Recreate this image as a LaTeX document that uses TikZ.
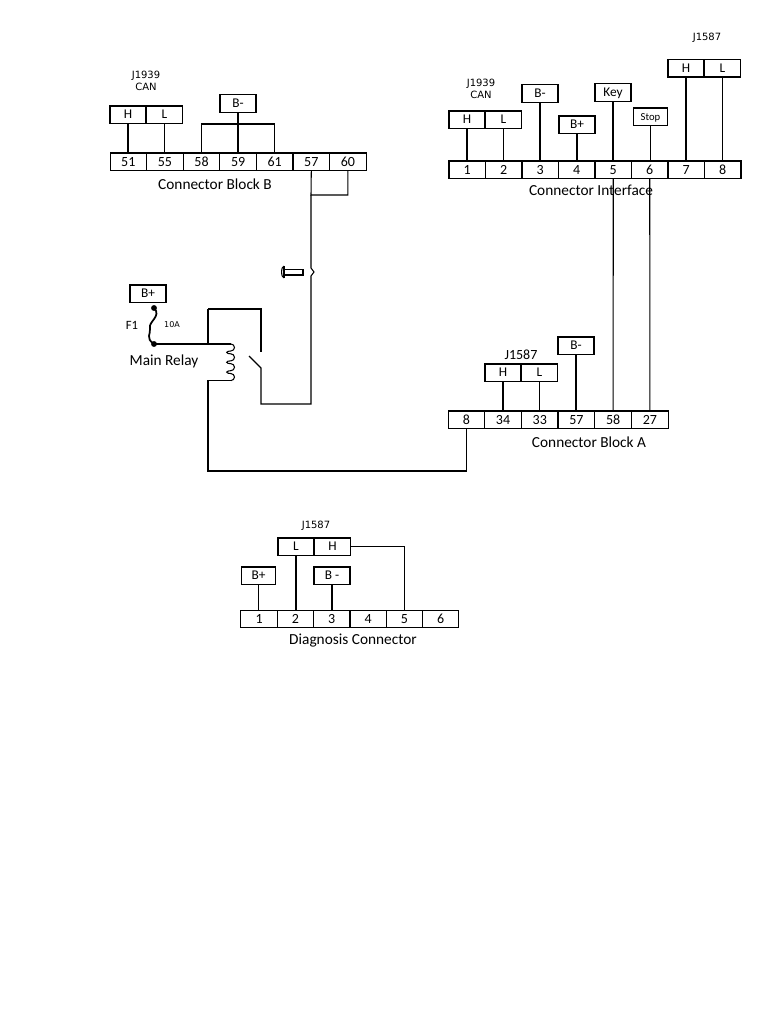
\documentclass[tikz,border=0pt]{standalone}
\usepackage{fontspec}
\setmainfont{Carlito}
\newfontfamily\smallf{DejaVu Sans}
\begin{document}
\begin{tikzpicture}[x=0.75pt,y=-0.75pt,line width=0.8pt,
  cell/.style={draw,minimum width=27.4pt,minimum height=12.8pt,inner sep=0pt,text height=7.2pt,text depth=0pt,font=\fontsize{10.5}{11}\selectfont},
  lbl/.style={draw,minimum height=12.8pt,inner sep=0pt,text height=7pt,text depth=0.5pt,font=\fontsize{10}{11}\selectfont},
  captxt/.style={font=\fontsize{11.5}{13}\selectfont},
  tiny/.style={font=\smallf\fontsize{7.5}{9}\selectfont,align=center}]
\useasboundingbox (0,0) rectangle (768,1024);
% Connector Block B
\foreach \t [count=\i] in {51,55,58,59,61,57,60}
  \node[cell] (b\i) at ({110+36.6*(\i-0.5)},161.5) {\t};
\node[captxt] (bcap) at (215,184) {Connector Block B};
\node[tiny] (bj) at (146,81) {J1939\\CAN};
\node[lbl,minimum width=27pt] (bh) at (128,114.5) {H};
\node[lbl,minimum width=27pt] (bl) at (164.5,114.5) {L};
\node[lbl,minimum width=27pt] (bbm) at (238,103.5) {B-};
\draw (bh) -- (bh|-b1.north);
\draw (bl) -- (bl|-b2.north);
\coordinate (bbus) at (238,124);
\draw (bbm) -- (bbm|-b4.north);
\draw (b3.north) |- (bbus) -| (b5.north);
\coordinate (loop) at (311,195);
\draw (b6.south) -- (loop) -| (b7.south);
% relay wire
\coordinate (kink) at (311,268);
\coordinate (rb) at (311,404);
\coordinate (sw1) at (261,404);
\draw (loop) -- (kink) -- (314,272) -- (311,276) -- (rb) -- (sw1) -- (261,368) -- (249,356);
\draw (208,309) -- (261,309) -- (261,352);
% screw
\draw (284,266) arc (90:270:1.8pt and 4.5pt);
\draw (284,266) -- (284,278);
\draw (284,269.5) rectangle (303,275);
% fuse and relay
\node[lbl,minimum width=27pt] (bp) at (148,293.5) {B+};
\coordinate (f1) at (154,308);
\coordinate (f2) at (154,344);
\draw[line width=1.3pt] (f1) .. controls (162,316) and (148,322) .. (150,328) .. controls (151,334) and (145,338) .. (f2);
\fill (f1) circle (2.2pt);
\fill (f2) circle (2.2pt);
\node[captxt,font=\fontsize{9.5}{10}\selectfont] (ff) at (132,325) {F1};
\node[tiny,font=\smallf\fontsize{6}{7}\selectfont] (fa) at (172,325) {10A};
\node[captxt] (mr) at (164,361) {Main Relay};
\coordinate (bot) at (208,471);
\draw (f2) -- (231,344);
\draw (208,309) -- (208,344);
\draw (231,344) arc (90:-90:2.6pt) arc (90:270:3.2pt and 1.1pt) arc (90:-90:2.6pt) arc (90:270:3.2pt and 1.1pt) arc (90:-90:2.6pt) arc (90:270:3.2pt and 1.1pt) arc (90:-90:2.6pt) coordinate (cend);
% Connector Interface
\foreach \t [count=\i] in {1,...,8}
  \node[cell] (c\i) at ({449+36.5*(\i-0.5)},169.5) {\t};
\node[captxt] (ccap) at (591,190) {Connector Interface};
\node[tiny] (cj) at (481,89) {J1939\\CAN};
\node[lbl,minimum width=27pt] (ch) at (467,119.5) {H};
\node[lbl,minimum width=27pt] (cl) at (503.5,119.5) {L};
\node[lbl,minimum width=27pt] (cbm) at (540,93.5) {B-};
\node[lbl,minimum width=27pt] (cbp) at (577,124.5) {B+};
\node[lbl,minimum width=27pt] (ckey) at (613,92.5) {Key};
\node[lbl,minimum width=26pt,font=\fontsize{8}{9}\selectfont] (cstop) at (650.5,116.5) {Stop};
\node[lbl,minimum width=27pt] (ch2) at (686,68.5) {H};
\node[lbl,minimum width=27pt] (cl2) at (722.5,68.5) {L};
\node[tiny] (cj2) at (707,38) {J1587};
\foreach \n/\c in {ch/c1,cl/c2,cbm/c3,cbp/c4,ckey/c5,cstop/c6,ch2/c7,cl2/c8}
  \draw (\n) -- (\n|-\c.north);
% Connector Block A
\foreach \t [count=\i] in {8,34,33,57,58,27}
  \node[cell] (a\i) at ({448+36.7*(\i-0.5)},419.5) {\t};
\node[captxt] (acap) at (589,442) {Connector Block A};
\node[captxt,font=\fontsize{10.5}{11}\selectfont] (aj) at (521,355) {J1587};
\node[lbl,minimum width=27pt] (ah) at (503,372.5) {H};
\node[lbl,minimum width=27pt] (al) at (539.5,372.5) {L};
\node[lbl,minimum width=27pt] (abm) at (576,345.5) {B-};
\draw (ah) -- (ah|-a2.north);
\draw (al) -- (al|-a3.north);
\draw (abm) -- (abm|-a4.north);
\draw (c5.south) -- (a5.north);
\draw (c6.south) -- (a6.north);
\draw (cend) -- (cend -| bot) -- (bot) -| (a1.south);
% Diagnosis
\foreach \t [count=\i] in {1,...,6}
  \node[cell] (d\i) at ({241+36.3*(\i-0.5)},619) {\t};
\node[captxt] (dcap) at (353,641) {Diagnosis Connector};
\node[tiny] (dj) at (316,526) {J1587};
\node[lbl,minimum width=27pt] (dl) at (296,546.5) {L};
\node[lbl,minimum width=27pt] (dh) at (332.5,546.5) {H};
\node[lbl,minimum width=26pt] (dbp) at (258.5,575.5) {B+};
\node[lbl,minimum width=27pt] (dbm) at (332,575.5) {B -};
\draw (dbp) -- (dbp|-d1.north);
\draw (dl) -- (dl|-d2.north);
\draw (dbm) -- (dbm|-d3.north);
\draw (dh.east) -| (d5.north);
\end{tikzpicture}
\end{document}
